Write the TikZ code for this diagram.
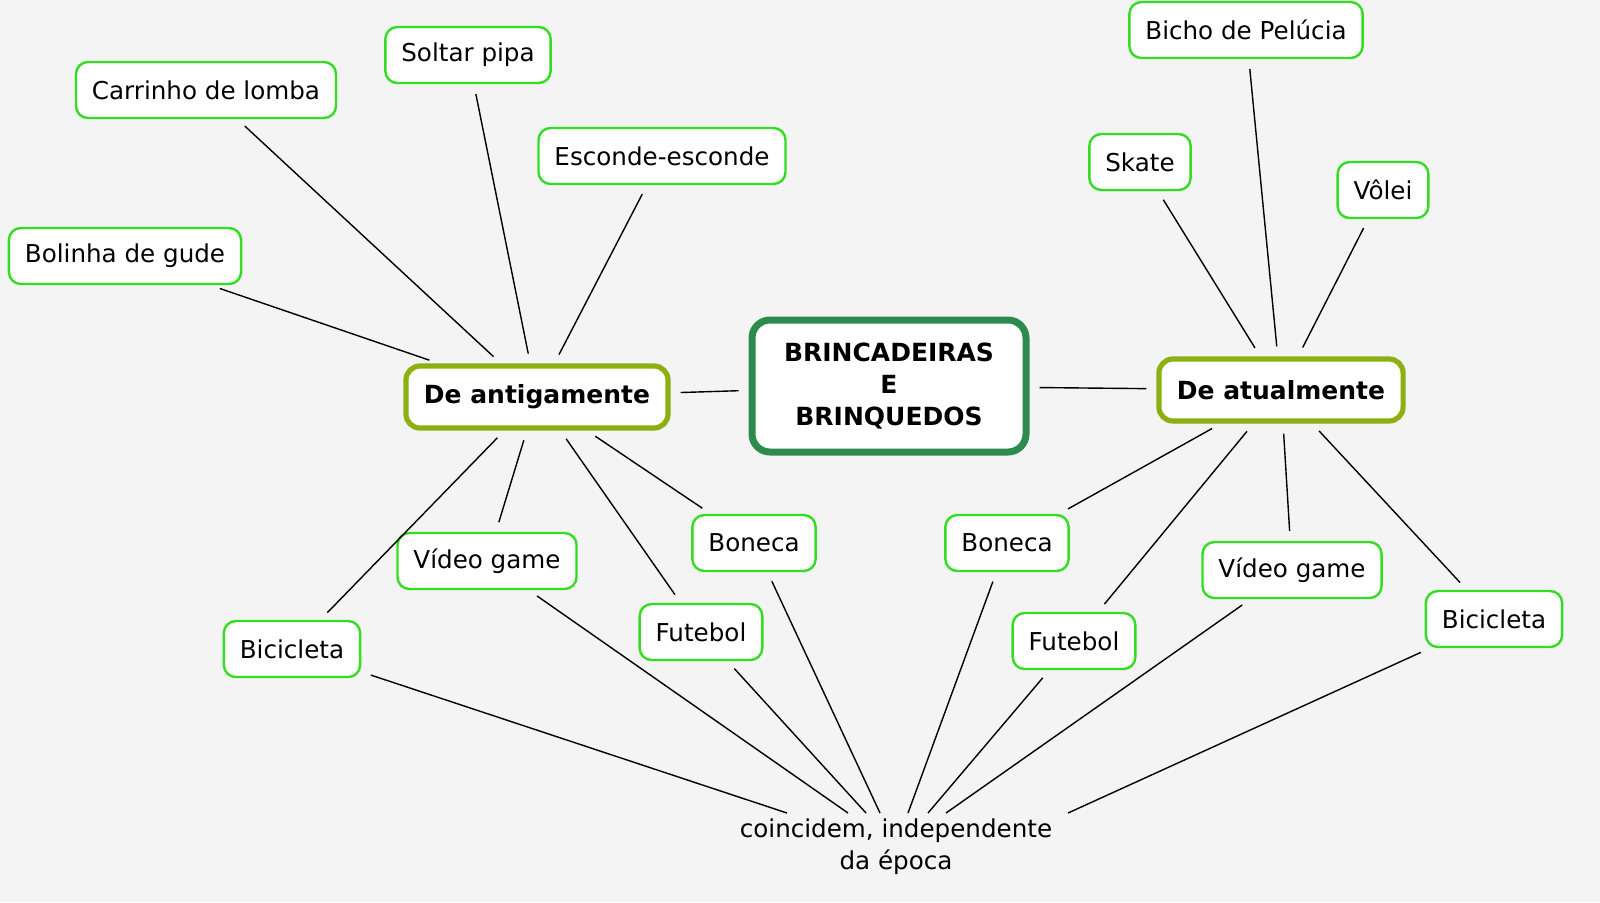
\documentclass[tikz,border=0pt]{standalone}
\usepackage{fontspec}
\setmainfont{DejaVu Sans}
\begin{document}
\begin{tikzpicture}[x=0.5pt,y=-0.5pt,
  leaf/.style={draw=leafc,line width=1.2pt,rounded corners=6pt,fill=white,font=\fontsize{12.3}{15}\selectfont,inner xsep=8pt,minimum height=28pt},
  hub/.style={draw=hubc,line width=2.6pt,rounded corners=7pt,fill=white,font=\bfseries\fontsize{12.5}{15}\selectfont,inner xsep=9pt,minimum height=31pt},
  link/.style={draw=black,line width=0.7pt,shorten <=5pt,shorten >=5pt}]
\definecolor{leafc}{HTML}{33DD22}
\definecolor{hubc}{HTML}{8DB010}
\definecolor{mainc}{HTML}{2E8B4E}
\fill[fill={rgb,255:red,244;green,244;blue,244}] (0,0) rectangle (1600,902);
\node[draw=mainc,line width=3.5pt,rounded corners=9pt,fill=white,font=\bfseries\fontsize{12.5}{16}\selectfont,align=center,minimum width=137pt,minimum height=66pt] (c) at (889,386) {BRINCADEIRAS\\E\\BRINQUEDOS};
\node[hub] (a) at (537,397) {De antigamente};
\node[hub] (b) at (1281,390) {De atualmente};
\node[leaf] (l1) at (206,90) {Carrinho de lomba};
\node[leaf] (l2) at (468,55) {Soltar pipa};
\node[leaf] (l3) at (662,156) {Esconde-esconde};
\node[leaf] (l4) at (125,256) {Bolinha de gude};
\node[leaf] (l5) at (487,561) {Vídeo game};
\node[leaf] (l6) at (292,649) {Bicicleta};
\node[leaf] (l7) at (701,632) {Futebol};
\node[leaf] (l8) at (754,543) {Boneca};
\node[leaf] (r1) at (1007,543) {Boneca};
\node[leaf] (r2) at (1074,641) {Futebol};
\node[leaf] (r3) at (1292,570) {Vídeo game};
\node[leaf] (r4) at (1494,619) {Bicicleta};
\node[leaf] (r5) at (1140,162) {Skate};
\node[leaf] (r6) at (1383,190) {Vôlei};
\node[leaf] (r7) at (1246,30) {Bicho de Pelúcia};
\node[font=\fontsize{12.3}{16}\selectfont,align=center] (t) at (896,847) {coincidem, independente\\da época};
\draw[link] (c) -- (a);
\draw[link] (c) -- (b);
\foreach \n in {l1,l2,l3,l4,l5,l6,l7,l8} \draw[link] (a) -- (\n);
\foreach \n in {r1,r2,r3,r4,r5,r6,r7} \draw[link] (b) -- (\n);
\coordinate (p1) at (787,813); \coordinate (p2) at (848,813);
\coordinate (p3) at (866,813); \coordinate (p4) at (880,813);
\coordinate (p5) at (908,813); \coordinate (p6) at (928,813);
\coordinate (p7) at (946,813); \coordinate (p8) at (1068,813);
\draw[link,shorten >=0pt] (l6) -- (p1);
\draw[link,shorten >=0pt] (l5) -- (p2);
\draw[link,shorten >=0pt] (l7) -- (p3);
\draw[link,shorten >=0pt] (l8) -- (p4);
\draw[link,shorten >=0pt] (r1) -- (p5);
\draw[link,shorten >=0pt] (r2) -- (p6);
\draw[link,shorten >=0pt] (r3) -- (p7);
\draw[link,shorten >=0pt] (r4) -- (p8);
\end{tikzpicture}
\end{document}
